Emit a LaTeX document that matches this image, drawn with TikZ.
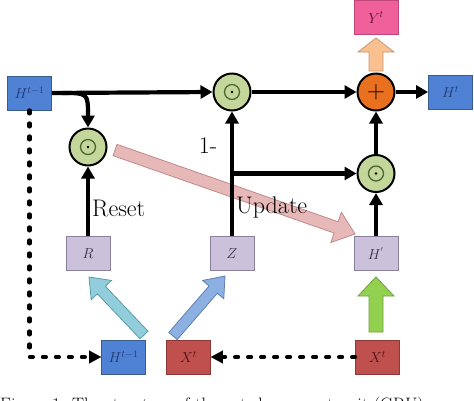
\documentclass[tikz,border=0pt]{standalone}
\usetikzlibrary{arrows.meta,calc}
\definecolor{cblue}{HTML}{4F81D4}\definecolor{cblueD}{HTML}{385D8A}\definecolor{cblueT}{HTML}{1F3A70}
\definecolor{cred}{HTML}{C0504D}\definecolor{credD}{HTML}{8C3836}\definecolor{credT}{HTML}{4A1010}
\definecolor{clav}{HTML}{CCC1DA}\definecolor{clavD}{HTML}{8C82A0}\definecolor{clavT}{HTML}{303040}
\definecolor{cpink}{HTML}{F0609A}\definecolor{cpinkD}{HTML}{C04878}\definecolor{cpinkT}{HTML}{5A1030}
\definecolor{cgreen}{HTML}{C4D79B}\definecolor{cring}{HTML}{4E6632}
\definecolor{corange}{HTML}{E8701E}
\definecolor{cpeach}{HTML}{FAC090}\definecolor{cpeachD}{HTML}{C89870}
\definecolor{ccyan}{HTML}{92CDDC}\definecolor{ccyanD}{HTML}{5A9AAA}
\definecolor{cbluea}{HTML}{8DB0E2}\definecolor{cblueaD}{HTML}{6080B0}
\definecolor{clime}{HTML}{92D050}\definecolor{climeD}{HTML}{70A040}
\definecolor{cpinka}{HTML}{E6B8B7}\definecolor{cpinkaD}{HTML}{C08A88}
\newcommand\blockarrow[6]{%
  \coordinate (ba) at ($(#2)!#5!(#1)$);
  \draw[#6] ($(#1)!#3!90:(#2)$) -- ($(ba)!#3!90:(#2)$) -- ($(ba)!#4!90:(#2)$) -- (#2)
    -- ($(ba)!#4!-90:(#2)$) -- ($(ba)!#3!-90:(#2)$) -- ($(#1)!#3!-90:(#2)$) -- cycle;}
\begin{document}
\begin{tikzpicture}[x=1pt,y=-1pt,
  arr/.style={line width=4.2pt,-{Triangle[length=12pt,width=13pt]}},
  dsh/.style={line width=4.2pt,line cap=round,dash pattern=on 3pt off 10pt},
  box/.style={draw,line width=0.8pt,minimum width=44pt,minimum height=34pt,inner sep=0pt,font=\fontsize{14}{16}\selectfont},
  bluebox/.style={box,fill=cblue,draw=cblueD,text=cblueT},
  redbox/.style={box,fill=cred,draw=credD,text=credT},
  lavbox/.style={box,fill=clav,draw=clavD,text=clavT},
  pinkbox/.style={box,fill=cpink,draw=cpinkD,text=cpinkT},
  gate/.style={circle,draw,line width=2pt,fill=cgreen,minimum size=37pt,inner sep=0pt},
  plusgate/.style={circle,draw,line width=2pt,fill=corange,minimum size=37pt,inner sep=0pt,font=\fontsize{24}{24}\selectfont},
  lbl/.style={font=\fontsize{24}{28}\selectfont,inner sep=0pt},
  ring/.style={draw=cring,line width=1.3pt},
]
\useasboundingbox (0,0) rectangle (474,400);
\clip (0,0) rectangle (474,400);
% nodes
\node[bluebox] (h1) at (29.5,93) {$H^{t-1}$};
\node[gate] (m0) at (88,147) {};
\node[gate] (m1) at (232,92) {};
\node[plusgate] (pl) at (376,92) {$+$};
\node[bluebox] (ht) at (450.5,92) {$H^{t}$};
\node[pinkbox] (yt) at (376,17.5) {$Y^{t}$};
\node[gate] (m2) at (376,173.5) {};
\node[lavbox] (r) at (88,253.5) {$R$};
\node[lavbox] (z) at (232,253.5) {$Z$};
\node[lavbox] (hc) at (376,253.5) {$H^{'}$};
\node[bluebox] (h2) at (123.5,357) {$H^{t-1}$};
\node[redbox] (x1) at (188.5,357) {$X^{t}$};
\node[redbox] (x2) at (377.5,357) {$X^{t}$};
\foreach \g in {m0,m1,m2}{\draw[ring] (\g) circle (7.5pt); \fill (\g) circle (1.3pt);}
% block arrows
\coordinate (pa1) at (115,150); \coordinate (pa2) at (355,234);
\blockarrow{pa1}{pa2}{6pt}{16pt}{20pt}{fill=cpinka,draw=cpinkaD,line width=0.8pt}
\coordinate (oa1) at (376,71); \coordinate (oa2) at (376,38);
\blockarrow{oa1}{oa2}{7pt}{18pt}{14pt}{fill=cpeach,draw=cpeachD,line width=0.8pt}
\coordinate (ga1) at (376,332); \coordinate (ga2) at (376,277);
\blockarrow{ga1}{ga2}{7pt}{18pt}{19pt}{fill=clime,draw=climeD,line width=0.8pt}
\coordinate (ca1) at (144,335); \coordinate (ca2) at (89,277);
\blockarrow{ca1}{ca2}{5.5pt}{14pt}{18pt}{fill=ccyan,draw=ccyanD,line width=0.8pt}
\coordinate (ba1) at (173,336); \coordinate (ba2) at (225,276);
\blockarrow{ba1}{ba2}{5.5pt}{14pt}{18pt}{fill=cbluea,draw=cblueaD,line width=0.8pt}
% connectors
\draw[arr] (h1.east) -- (m1.west);
\coordinate (br) at (62,93);
\draw[arr] (br) .. controls (88,93) .. (m0.north);
\draw[arr] (r.north) -- (m0.south);
\draw[arr] (z.north) -- (m1.south);
\coordinate (zb) at (232,173.5);
\draw[arr] (zb) -- (m2.west);
\draw[arr] (m1.east) -- (pl.west);
\draw[arr] (pl.east) -- (ht.west);
\draw[arr] (m2.north) -- (pl.south);
\draw[arr] (hc.north) -- (m2.south);
\draw[dsh] (h1.south) -- (h1.south |- h2.west) -- ([xshift=-12pt]h2.west);
\draw[line width=0.1pt,-{Triangle[length=12pt,width=13pt]}] ([xshift=-12pt]h2.west) -- (h2.west);
\draw[dsh] (x2.west) -- ([xshift=12pt]x1.east);
\draw[line width=0.1pt,-{Triangle[length=12pt,width=13pt]}] ([xshift=12pt]x1.east) -- (x1.east);
% labels
\node[lbl] (one) at (208,146) {1-};
\node[lbl,anchor=west] (reset) at (92,208) {Reset};
\node[lbl,anchor=west] (upd) at (236,208) {Update};
\node[anchor=base west,inner sep=0pt,font=\fontsize{18}{20}\selectfont] (cap) at (0,410) {Figure 1. The structure of the gated recurrent unit (GRU)};
\end{tikzpicture}
\end{document}
